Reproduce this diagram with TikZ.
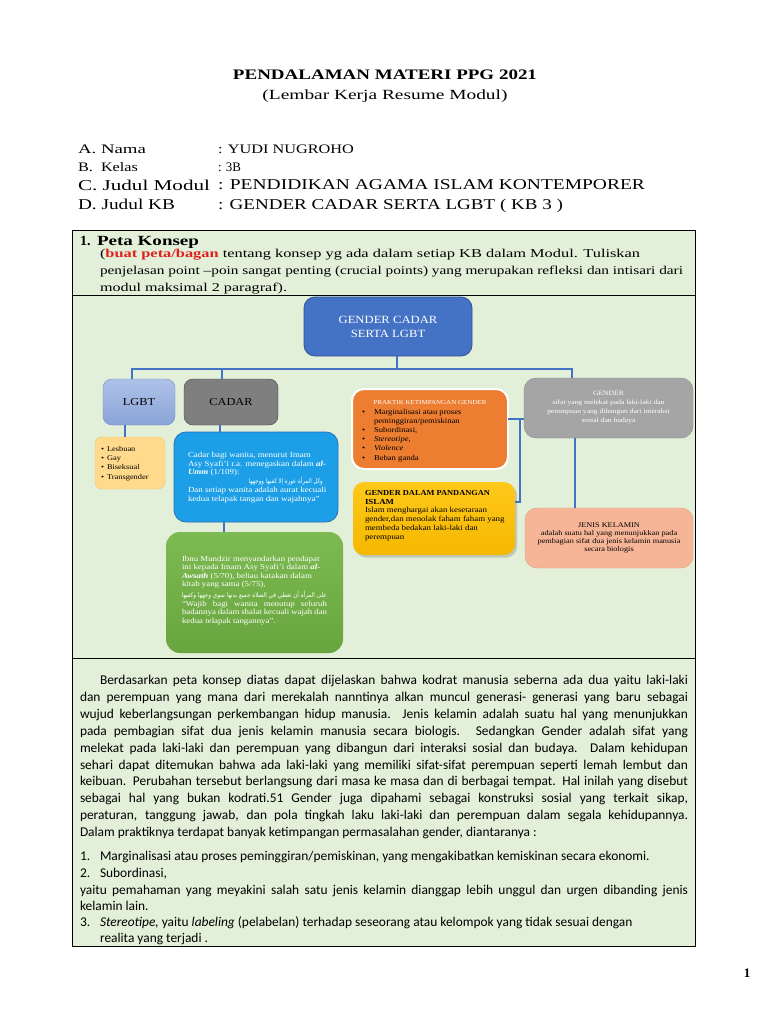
\documentclass[tikz,border=0pt]{standalone}
\usepackage{fontspec}
\usepackage{graphicx}
\setmainfont{Liberation Serif}
\newfontfamily\mapf[FakeStretch=1.15]{Liberation Serif}
\newfontfamily\bodyf{Carlito}
\newfontfamily\arabicfont[Script=Arabic]{DejaVu Sans}
\TeXXeTstate=1
\usetikzlibrary{calc,shadows}
\definecolor{pagegreen}{HTML}{E2EFD9}
\definecolor{conncol}{HTML}{4472C4}
\definecolor{topblue}{HTML}{4472C4}
\definecolor{topblueB}{HTML}{2F528F}
\definecolor{lgbtA}{HTML}{AFC2E8}
\definecolor{lgbtB}{HTML}{8AA4D8}
\definecolor{lgbtC}{HTML}{6F8CC8}
\definecolor{cadargray}{HTML}{7F7F7F}
\definecolor{listyel}{HTML}{FFD98C}
\definecolor{listyelB}{HTML}{F2C46A}
\definecolor{cblue}{HTML}{1C9FE6}
\definecolor{cblueB}{HTML}{2E6DB4}
\definecolor{grnA}{HTML}{7DBA52}
\definecolor{grnB}{HTML}{68A53E}
\definecolor{orng}{HTML}{ED7D31}
\definecolor{ggray}{HTML}{A5A5A5}
\definecolor{ggrayB}{HTML}{8A8A8A}
\definecolor{yelA}{HTML}{FFC81A}
\definecolor{yelB}{HTML}{F5B800}
\definecolor{salm}{HTML}{F7B598}
\definecolor{salmB}{HTML}{E79A78}
\definecolor{redtxt}{HTML}{E0201B}
\newcommand\fsz[2]{\fontsize{#1}{#2}\selectfont}
\newcommand\wfit[2]{\resizebox{#1pt}{\height}{#2}}
\newcommand\bodyline[5]{\node[txt] (#1) at (#2,#3) {\bodyf\fsz{13.4}{16}\makebox[#4pt][s]{#5}};}
\newcommand\bodyleft[4]{\node[txt] (#1) at (#2,#3) {\bodyf\fsz{13.4}{16}#4};}
\begin{document}
\begin{tikzpicture}[x=1pt,y=-1pt,
  txt/.style={inner sep=0pt,outer sep=0pt,anchor=base west},
  ctxt/.style={inner sep=0pt,outer sep=0pt,anchor=base},
  mbox/.style={rounded corners=9pt,inner sep=0pt,outer sep=0pt},
  conn/.style={draw=conncol,line width=1.6pt}]
\useasboundingbox (0,0) rectangle (768,1024);
\fill[white] (0,0) rectangle (768,1024);

% header
\node[ctxt] (title) at (385,80) {\wfit{304}{\fsz{14.5}{17}\bfseries PENDALAMAN MATERI PPG 2021}};
\node[ctxt] (subtitle) at (385,100) {\wfit{245}{\fsz{14}{17}(Lembar Kerja Resume Modul)}};
\node[txt] (fa) at (78,154) {\wfit{68}{\fsz{13}{15}A. Nama}};
\node[txt] (va) at (218,154) {\wfit{136}{\fsz{13}{15}: YUDI NUGROHO}};
\node[txt] (fb) at (78,172) {\wfit{60}{\fsz{13}{15}B.\ \ Kelas}};
\node[txt] (vb) at (218,172) {\wfit{23}{\fsz{13}{15}: 3B}};
\node[txt] (fc) at (78,190) {\wfit{132}{\fsz{15}{17}C. Judul Modul}};
\node[txt] (vc) at (218,190) {\wfit{427}{\fsz{15}{17}: PENDIDIKAN AGAMA ISLAM KONTEMPORER}};
\node[txt] (fd) at (78,209) {\wfit{97}{\fsz{15}{17}D. Judul KB}};
\node[txt] (vd) at (218,209) {\wfit{345}{\fsz{15}{17}: GENDER CADAR SERTA LGBT ( KB 3 )}};

% frame
\fill[pagegreen] (72,230) rectangle (695,946);
\draw[line width=0.8pt] (72,230) rectangle (695,946);
\draw[line width=0.8pt] (72,295) -- (695,295);
\draw[line width=0.8pt] (72,658) -- (695,658);

\node[txt] (pk1) at (80,245) {\fsz{14}{16}\bfseries 1.};
\node[txt] (pk2) at (97,245) {\wfit{102}{\fsz{14}{16}\bfseries Peta Konsep}};
\node[txt] (pl1) at (100,257) {\wfit{540}{\fsz{12}{14}(\textcolor{redtxt}{\bfseries buat peta/bagan} tentang konsep yg ada dalam setiap KB dalam Modul. Tuliskan}};
\node[txt] (pl2) at (100,274) {\wfit{583}{\fsz{12}{14}penjelasan point --poin sangat penting (crucial points) yang merupakan refleksi dan intisari dari}};
\node[txt] (pl3) at (100,291) {\wfit{187}{\fsz{12}{14}modul maksimal 2 paragraf).}};

% boxes
\node[mbox, draw=topblueB, fill=topblue, line width=0.8pt, rounded corners=11pt, minimum width=168pt, minimum height=59pt, align=center, text=white, font={\mapf\fsz{11}{14}}] (top) at (388,326.5) {GENDER CADAR\\SERTA LGBT};
\node[mbox, draw=lgbtC, top color=lgbtA, bottom color=lgbtB, minimum width=72pt, minimum height=46pt, font={\mapf\fsz{10.7}{13}}] (lgbt) at (139,402) {LGBT};
\node[mbox, draw=black!75, fill=cadargray, minimum width=94pt, minimum height=46pt, font={\mapf\fsz{10.7}{13}}] (cadar) at (231,402) {CADAR};
\node[mbox, rounded corners=7pt, draw=listyelB, fill=listyel, minimum width=70pt, minimum height=52pt] (list) at (130,463) {};
\node[mbox, rounded corners=12pt, draw=cblueB, line width=0.8pt, fill=cblue, minimum width=164pt, minimum height=90pt] (cblue) at (256,477) {};
\node[mbox, rounded corners=14pt, top color=grnA, bottom color=grnB, minimum width=177pt, minimum height=121pt] (green) at (254.5,592.5) {};
\node[mbox, rounded corners=12pt, draw=white, line width=2pt, fill=orng, minimum width=156pt, minimum height=80pt] (praktik) at (430,429) {};
\node[mbox, rounded corners=12pt, draw=ggrayB, fill=ggray, minimum width=169pt, minimum height=60pt, align=center, text=white, font={\mapf\fsz{6.6}{9}}] (gender) at (608.5,408) {GENDER\\sifat yang melekat pada laki-laki dan\\perempuan yang dibangun dari interaksi\\sosial dan budaya};
\node[mbox, rounded corners=11pt, top color=yelA, bottom color=yelB, drop shadow={opacity=0.35,shadow xshift=2pt,shadow yshift=-2.5pt}, minimum width=162pt, minimum height=73pt] (yellow) at (434,518.5) {};
\node[mbox, rounded corners=12pt, draw=salmB, fill=salm, minimum width=168pt, minimum height=60pt, align=center, font={\mapf\fsz{7.2}{8}}] (salmon) at (609,538) {JENIS KELAMIN\\adalah suatu hal yang menunjukkan pada\\pembagian sifat dua jenis kelamin manusia\\secara biologis};

% connectors
\coordinate (bus) at (397,369);
\draw[conn] (top.south -| bus) -- (bus);
\draw[conn] ([xshift=-7pt]lgbt.north) |- ([xshift=-36.5pt]gender.north |- bus) -- ([xshift=-36.5pt]gender.north);
\draw[conn] ([xshift=-9pt]cadar.north) -- ([xshift=-9pt]cadar.north |- bus);
\draw[conn] ([xshift=-14pt]lgbt.south) -- ([xshift=-14pt]lgbt.south |- list.north);
\draw[conn] ([xshift=-11pt]cadar.south) -- ([xshift=-11pt]cadar.south |- cblue.north);
\draw[conn] ([xshift=-32pt]cblue.south) -- ([xshift=-32pt]cblue.south |- green.north);
\draw[conn] ([xshift=-33.5pt]gender.south) -- ([xshift=-33.5pt]gender.south |- salmon.north);
\coordinate (brk) at (520,419);
\draw[conn] (gender.west |- brk) -- (praktik.east |- brk);
\draw[conn] (brk) |- ([yshift=16.5pt]yellow.east);

% box texts (multi-line nodes anchored at the baseline of their last line)
\node[txt, align=left, font={\mapf\fsz{7.3}{9.2}}] (listB) at (101,479.1) {\textbullet\\\textbullet\\\textbullet\\\textbullet};
\node[txt, align=left, font={\mapf\fsz{7.3}{9.2}}] (listT) at (107,479.1) {Lesbuan\\Gay\\Biseksual\\Transgender};

\node[txt, align=left, text=white, font={\mapf\fsz{7.8}{8.6}}] (cblueT1) at (188,474.7) {Cadar bagi wanita, menurut Imam\\Asy Syafi’i r.a. menegaskan dalam \textbf{\textit{al-}}\\\textbf{\textit{Umm}} (1/109):};
\node[inner sep=0pt, anchor=base east, text=white] (cblueAr) at (323,483.5) {\wfit{74}{\arabicfont\fsz{6.5}{7}\beginR وكل المرأة عورة إلا كفيها ووجهها\endR}};
\node[txt, align=left, text=white, font={\mapf\fsz{7.8}{8.6}}] (cblueT2) at (188,501.1) {Dan setiap wanita adalah aurat kecuali\\kedua telapak tangan dan wajahnya”};

\node[txt, align=left, text=white, font={\mapf\fsz{7.7}{8.5}}] (greenT1) at (182,586.5) {Ibnu Mundzir menyandarkan pendapat\\ini kepada Imam Asy Syafi’i dalam \textbf{\textit{al-}}\\\textbf{\textit{Awsath}} (5/70), beliau katakan dalam\\kitab yang sama (5/75),};
\node[inner sep=0pt, anchor=base east, text=white] (greenAr) at (327,597) {\wfit{145}{\arabicfont\fsz{6.5}{7}\beginR على المرأة أن تغطي في الصلاة جميع بدنها سوى وجهها وكفيها\endR}};
\node[txt, text=white, font={\mapf\fsz{7.7}{8.5}}] (greenT2) at (182,606) {\makebox[145pt][s]{“Wajib bagi wanita menutup seluruh}};
\node[txt, text=white, font={\mapf\fsz{7.7}{8.5}}] (greenT3) at (182,614.5) {\makebox[145pt][s]{badannya dalam shalat kecuali wajah dan}};
\node[txt, text=white, font={\mapf\fsz{7.7}{8.5}}] (greenT4) at (182,623) {kedua telapak tangannya”.};

\node[ctxt, text=white, font={\mapf\fsz{6.1}{7}}] (praktikH) at (430,404) {PRAKTIK KETIMPANGAN GENDER};
\node[txt, align=left, font={\mapf\fsz{7.5}{9.2}}] (praktikB) at (362,460) {\textbullet\\\mbox{}\\\textbullet\\\textbullet\\\textbullet\\\textbullet};
\node[txt, align=left, font={\mapf\fsz{7.5}{9.2}}] (praktikT) at (374,460) {Marginalisasi atau proses\\peminggiran/pemiskinan\\Subordinasi,\\\textit{Stereotipe,}\\\textit{Violence}\\Beban ganda};

\node[txt, align=left, font={\mapf\fsz{7.7}{8.7}}] (yellowT) at (365,539) {\wfit{125}{\bfseries GENDER DALAM PANDANGAN}\\\textbf{ISLAM}\\Islam menghargai akan kesetaraan\\gender,dan menolak faham faham yang\\membeda bedakan laki-laki dan\\perempuan};

% paragraph
\bodyline{b1}{100}{684}{588}{Berdasarkan peta konsep diatas dapat dijelaskan bahwa kodrat manusia seberna ada dua yaitu laki-laki}
\bodyline{b2}{80}{701}{608}{dan perempuan yang mana dari merekalah nanntinya alkan muncul generasi- generasi yang baru sebagai}
\bodyline{b3}{80}{718}{608}{wujud keberlangsungan perkembangan hidup manusia. Jenis kelamin adalah suatu hal yang menunjukkan}
\bodyline{b4}{80}{735}{608}{pada pembagian sifat dua jenis kelamin manusia secara biologis. Sedangkan Gender adalah sifat yang}
\bodyline{b5}{80}{752}{608}{melekat pada laki-laki dan perempuan yang dibangun dari interaksi sosial dan budaya. Dalam kehidupan}
\bodyline{b6}{80}{769}{608}{sehari dapat ditemukan bahwa ada laki-laki yang memiliki sifat-sifat perempuan seperti lemah lembut dan}
\bodyline{b7}{80}{785}{608}{keibuan. Perubahan tersebut berlangsung dari masa ke masa dan di berbagai tempat. Hal inilah yang disebut}
\bodyline{b8}{80}{802}{608}{sebagai hal yang bukan kodrati.51 Gender juga dipahami sebagai konstruksi sosial yang terkait sikap,}
\bodyline{b9}{80}{819}{608}{peraturan, tanggung jawab, dan pola tingkah laku laki-laki dan perempuan dalam segala kehidupannya.}
\bodyleft{b10}{80}{836}{Dalam praktiknya terdapat banyak ketimpangan permasalahan gender, diantaranya :}
\bodyleft{n1}{80}{860}{1.}
\bodyleft{l1}{100}{860}{Marginalisasi atau proses peminggiran/pemiskinan, yang mengakibatkan kemiskinan secara ekonomi.}
\bodyleft{n2}{80}{877}{2.}
\bodyleft{l2}{100}{877}{Subordinasi,}
\bodyline{l3}{80}{894}{608}{yaitu pemahaman yang meyakini salah satu jenis kelamin dianggap lebih unggul dan urgen dibanding jenis}
\bodyleft{l4}{80}{910}{kelamin lain.}
\bodyleft{n3}{80}{926}{3.}
\bodyleft{l5}{100}{926}{\textit{Stereotipe,} yaitu \textit{labeling} (pelabelan) terhadap seseorang atau kelompok yang tidak sesuai dengan}
\bodyleft{l6}{100}{942}{realita yang terjadi .}

\node[ctxt] (pnum) at (747,977) {\fsz{13}{15}\bfseries 1};
\end{tikzpicture}
\end{document}
